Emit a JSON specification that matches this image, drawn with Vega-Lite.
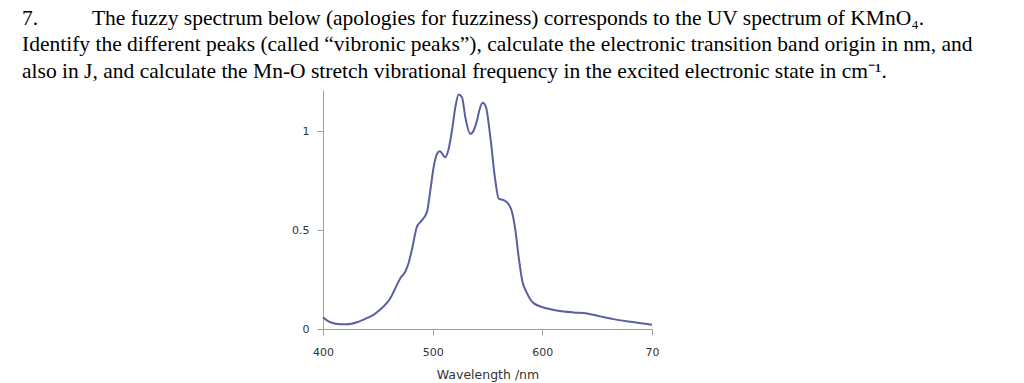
{
  "$schema": "https://vega.github.io/schema/vega-lite/v6.json",
  "width": 329,
  "height": 239,
  "autosize": {"type": "none"},
  "padding": {"left": 323, "top": 90, "right": 372, "bottom": 54},
  "background": "white",
  "title": {
    "text": [
      "7.\u2003\u2003\u2002The fuzzy spectrum below (apologies for fuzziness) corresponds to the UV spectrum of KMnO₄.",
      "Identify the different peaks (called “vibronic peaks”), calculate the electronic transition band origin in nm, and",
      "also in J, and calculate the Mn-O stretch vibrational frequency in the excited electronic state in cm⁻¹."
    ],
    "anchor": "start",
    "frame": "group",
    "orient": "top",
    "dx": -301,
    "dy": 19,
    "font": "Liberation Serif",
    "fontSize": 21.5,
    "fontWeight": "normal",
    "color": "black",
    "lineHeight": 26.5,
    "baseline": "alphabetic",
    "offset": 10
  },
  "data": {
    "values": [
      {"wl": 400, "abs": 0.06},
      {"wl": 406.7, "abs": 0.034},
      {"wl": 415.8, "abs": 0.024},
      {"wl": 421.9, "abs": 0.024},
      {"wl": 431, "abs": 0.034},
      {"wl": 440, "abs": 0.055},
      {"wl": 446, "abs": 0.072},
      {"wl": 452, "abs": 0.097},
      {"wl": 458, "abs": 0.131},
      {"wl": 461.4, "abs": 0.156},
      {"wl": 466, "abs": 0.207},
      {"wl": 470.5, "abs": 0.257},
      {"wl": 475, "abs": 0.29},
      {"wl": 478, "abs": 0.333},
      {"wl": 481, "abs": 0.4},
      {"wl": 485.7, "abs": 0.518},
      {"wl": 490.3, "abs": 0.551},
      {"wl": 494.8, "abs": 0.593},
      {"wl": 497.9, "abs": 0.703},
      {"wl": 500.9, "abs": 0.82},
      {"wl": 504, "abs": 0.887},
      {"wl": 506.4, "abs": 0.9},
      {"wl": 511.5, "abs": 0.87},
      {"wl": 514.6, "abs": 0.913},
      {"wl": 517.6, "abs": 1.005},
      {"wl": 520.7, "abs": 1.123},
      {"wl": 523.7, "abs": 1.187},
      {"wl": 526.7, "abs": 1.173},
      {"wl": 529.8, "abs": 1.072},
      {"wl": 534.3, "abs": 0.988},
      {"wl": 537.4, "abs": 1.005},
      {"wl": 540.4, "abs": 1.055},
      {"wl": 542.5, "abs": 1.106},
      {"wl": 545.6, "abs": 1.145},
      {"wl": 548.6, "abs": 1.123},
      {"wl": 552.6, "abs": 0.971},
      {"wl": 557.1, "abs": 0.753},
      {"wl": 560.2, "abs": 0.66},
      {"wl": 564.7, "abs": 0.652},
      {"wl": 569.3, "abs": 0.632},
      {"wl": 572.3, "abs": 0.593},
      {"wl": 575.4, "abs": 0.501},
      {"wl": 578.4, "abs": 0.366},
      {"wl": 581.5, "abs": 0.249},
      {"wl": 586, "abs": 0.182},
      {"wl": 592, "abs": 0.131},
      {"wl": 601.2, "abs": 0.109},
      {"wl": 613.4, "abs": 0.094},
      {"wl": 628.6, "abs": 0.084},
      {"wl": 640.7, "abs": 0.079},
      {"wl": 652.9, "abs": 0.064},
      {"wl": 665, "abs": 0.05},
      {"wl": 680.2, "abs": 0.037},
      {"wl": 700, "abs": 0.022}
    ]
  },
  "mark": {"type": "line", "color": "#5a5fa3", "strokeWidth": 2, "interpolate": "monotone"},
  "encoding": {
    "x": {
      "field": "wl",
      "type": "quantitative",
      "scale": {"domain": [400, 700], "nice": false, "zero": false},
      "axis": {
        "values": [400, 500, 600, 700],
        "labelExpr": "datum.value == 700 ? '70' : datum.label",
        "labelFlush": false,
        "grid": false,
        "domainColor": "#a0a0a0",
        "tickColor": "#a0a0a0",
        "tickSize": 6,
        "labelFont": "DejaVu Sans",
        "labelFontSize": 11,
        "labelColor": "#333333",
        "labelPadding": 11,
        "title": "Wavelength /nm",
        "titleFont": "DejaVu Sans",
        "titleFontSize": 12.5,
        "titleFontWeight": "normal",
        "titleColor": "#333333",
        "titlePadding": 11
      }
    },
    "y": {
      "field": "abs",
      "type": "quantitative",
      "scale": {"domain": [0, 1.21], "nice": false},
      "axis": {
        "values": [0, 0.5, 1],
        "format": ".1~f",
        "labelFlush": false,
        "grid": false,
        "domainColor": "#a0a0a0",
        "tickColor": "#a0a0a0",
        "tickSize": 6,
        "labelFont": "DejaVu Sans",
        "labelFontSize": 11,
        "labelColor": "#333333",
        "labelPadding": 8,
        "title": null
      }
    }
  },
  "config": {"view": {"stroke": null}}
}
